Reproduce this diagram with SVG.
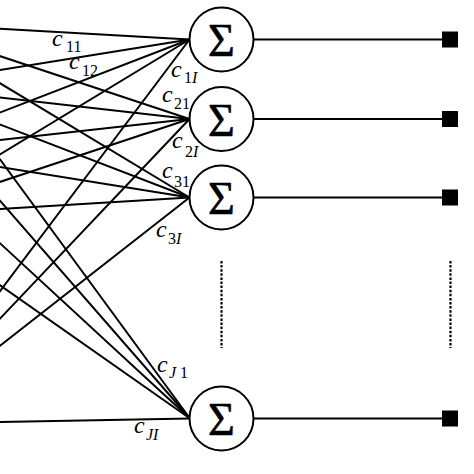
<svg xmlns="http://www.w3.org/2000/svg" width="474" height="474" viewBox="0 0 474 474">
<style>
.w{stroke:#000;stroke-width:2;fill:none}
.n{fill:#fff;stroke:#000;stroke-width:2}
.s{font-family:"Liberation Serif","DejaVu Serif",serif;font-size:46px;text-anchor:middle;fill:#000;stroke:#000;stroke-width:0.6}
.c{font-family:"Liberation Serif","DejaVu Serif",serif;font-style:italic;font-size:24px;fill:#000}
.b{font-family:"Liberation Serif","DejaVu Serif",serif;font-size:16px;fill:#000}
.i{font-style:italic}
.d{stroke:#000;stroke-width:2.2;stroke-dasharray:2.5,1.6;fill:none}
</style>
<rect width="474" height="474" fill="#fff"/>
<g id="connectors">
<path class="w" d="M-100,23L189.5,39.5M-100,23L189.5,119M-100,23L189.5,197.5M-100,23L190,418.5"/>
<path class="w" d="M-100,86L189.5,39.5M-100,86L189.5,119M-100,86L189.5,197.5M-100,86L190,418.5"/>
<path class="w" d="M-100,151L189.5,39.5M-100,151L189.5,119M-100,151L189.5,197.5M-100,151L190,418.5"/>
<path class="w" d="M-100,215L189.5,39.5M-100,215L189.5,119M-100,215L189.5,197.5M-100,215L190,418.5"/>
<path class="w" d="M-100,424L189.5,39.5M-100,424L189.5,119M-100,424L189.5,197.5M-100,424L190,418.5"/>
<path class="w" d="M253.5,39.5H442M253.5,119H442M253.5,197.5H442M253.5,418.5H442"/>
<line class="d" x1="221.5" y1="261" x2="221.5" y2="348"/>
<line class="d" x1="450.5" y1="261" x2="450.5" y2="348"/>
</g>
<g id="labels">
<text class="c" x="52" y="46">c</text><text class="b" x="66" y="52">11</text>
<text class="c" x="69" y="69">c</text><text class="b" x="82" y="76">12</text>
<text class="c" x="171" y="77">c</text><text class="b" x="184" y="83">1<tspan class="i">I</tspan></text>
<text class="c" x="162" y="102">c</text><text class="b" x="174" y="109">21</text>
<text class="c" x="172" y="148">c</text><text class="b" x="185" y="157">2<tspan class="i">I</tspan></text>
<text class="c" x="162" y="178">c</text><text class="b" x="174" y="187">31</text>
<text class="c" x="156" y="237">c</text><text class="b" x="168" y="244">3<tspan class="i">I</tspan></text>
<text class="c" x="157" y="372">c</text><text class="b" x="169" y="378"><tspan class="i">J</tspan> 1</text>
<text class="c" x="134" y="433">c</text><text class="b" x="146" y="440"><tspan class="i">JI</tspan></text>
</g>
<g id="node1"><circle class="n" cx="221.5" cy="39.5" r="32"/><text class="s" x="221.5" y="56">Σ</text><rect x="442" y="31.5" width="16" height="16"/></g>
<g id="node2"><circle class="n" cx="221.5" cy="119" r="32"/><text class="s" x="221.5" y="135.5">Σ</text><rect x="442" y="111" width="16" height="16"/></g>
<g id="node3"><circle class="n" cx="221.5" cy="197.5" r="32"/><text class="s" x="221.5" y="214">Σ</text><rect x="442" y="189.5" width="16" height="16"/></g>
<g id="nodeJ"><circle class="n" cx="221.5" cy="418.5" r="32"/><text class="s" x="221.5" y="435">Σ</text><rect x="442" y="410.5" width="16" height="16"/></g>
</svg>
